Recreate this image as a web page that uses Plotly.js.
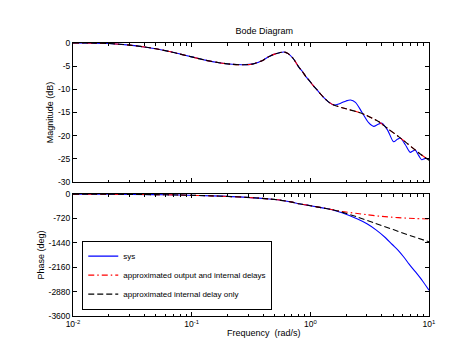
<!DOCTYPE html>
<html>
<head>
<meta charset="utf-8">
<script src="https://cdn.plot.ly/plotly-3.0.1.min.js"></script>
<style>html,body{margin:0;padding:0;background:#fff;}#chart{width:474px;height:355px;}</style>
</head>
<body>
<div id="chart"></div>
<script>
// ---- Data ----
// Magnitude (dB), sys
const sysMagFreq = [0.01,0.015,0.02,0.03,0.04,0.05,0.065,0.08,0.1,0.13,0.17,0.22,0.27,0.33,0.4,0.45,0.5,0.55,0.6,0.65,0.72,0.8,0.86,0.92,0.98,1.05,1.12,1.2,1.3,1.42,1.58,1.8,2.0,2.18,2.4,2.73,3.1,3.42,3.7,4.02,4.5,5.03,5.4,5.73,6.3,6.95,7.3,7.65,8.2,8.69,9.3,10];
const sysMagDb = [0,-0.02,-0.1,-0.45,-0.85,-1.25,-1.85,-2.4,-3.0,-3.7,-4.25,-4.6,-4.7,-4.5,-3.7,-2.9,-2.4,-2.1,-1.95,-2.3,-3.4,-5.2,-6.2,-7.3,-8.1,-9.1,-9.9,-10.8,-11.8,-12.7,-13.4,-13.0,-12.5,-12.3,-12.8,-15.0,-17.2,-18.0,-17.6,-17.3,-18.9,-21.3,-20.8,-20.5,-21.9,-23.6,-23.3,-23.1,-24.3,-25.2,-24.9,-25.0];
// Magnitude (dB), approximations (both nearly identical)
const apxMagFreq = [0.01,0.015,0.02,0.03,0.04,0.05,0.065,0.08,0.1,0.13,0.17,0.22,0.27,0.33,0.4,0.45,0.5,0.55,0.6,0.65,0.72,0.8,0.86,0.92,0.98,1.05,1.12,1.2,1.3,1.42,1.58,2.0,2.5,2.9,3.3,3.78,4.5,5.54,6.5,7.5,8.5,10];
const apxMagDb = [0,-0.02,-0.1,-0.45,-0.85,-1.25,-1.85,-2.4,-3.0,-3.7,-4.25,-4.6,-4.7,-4.5,-3.7,-2.9,-2.4,-2.1,-1.95,-2.3,-3.4,-5.2,-6.2,-7.3,-8.1,-9.1,-9.9,-10.8,-11.8,-12.7,-13.4,-14.2,-14.9,-15.5,-16.2,-17.0,-18.5,-20.2,-21.6,-22.9,-24.0,-25.3];
// Phase (deg)
const sysPhFreq = [0.01,0.02,0.05,0.08,0.15,0.29,0.45,0.55,0.7,0.8,1.0,1.3,1.5,1.85,2.5,3.0,3.6,4.3,4.9,5.5,6.2,6.8,7.7,8.8,10];
const sysPhDeg = [-3,-7,-18,-30,-55,-98,-145,-178,-240,-285,-345,-415,-455,-555,-740,-880,-1065,-1290,-1490,-1660,-1880,-2070,-2300,-2560,-2840];
const outPhFreq = [0.01,0.02,0.05,0.08,0.15,0.29,0.45,0.55,0.7,0.8,1.0,1.3,1.5,1.85,2.5,3.0,4.0,5.5,7.5,10];
const outPhDeg = [-3,-7,-18,-30,-55,-98,-145,-178,-240,-285,-345,-415,-455,-515,-575,-610,-660,-698,-722,-738];
const intPhFreq = [0.01,0.02,0.05,0.08,0.15,0.29,0.45,0.55,0.7,0.8,1.0,1.3,1.5,1.85,2.5,3.5,5.0,7.0,10];
const intPhDeg = [-3,-7,-18,-30,-55,-98,-145,-178,-240,-285,-345,-415,-455,-535,-680,-860,-1050,-1230,-1410];

const seriesNames = ['sys','approximated output and internal delays','approximated internal delay only'];
const freqTickVals = [0.01,0.1,1,10];
const freqTickText = ['10<sup>-2</sup>','10<sup>-1</sup>','10<sup>0</sup>','10<sup>1</sup>'];
const magTickVals = [0,-5,-10,-15,-20,-25,-30];
const magTickText = ['0','-5','-10','-15','-20','-25','-30'];
const phTickVals = [0,-720,-1440,-2160,-2880,-3600];
const phTickText = ['0','-720','-1440','-2160','-2880','-3600'];

const FONT = '"Liberation Sans", Arial, Helvetica, sans-serif';
const colSys = '#0000ff', colOut = '#ff0000', colInt = '#000000';
const lw = 1.1;

const traces = [
  {x: sysMagFreq, y: sysMagDb, xaxis:'x', yaxis:'y', mode:'lines', name: seriesNames[0], legendgroup:'a', showlegend:true,
   line:{color:colSys, width:lw, shape:'spline', smoothing:0.8}},
  {x: apxMagFreq, y: apxMagDb, xaxis:'x', yaxis:'y', mode:'lines', name: seriesNames[1], legendgroup:'b', showlegend:true,
   line:{color:colOut, width:lw, dash:'6px,3px,1.5px,3px', shape:'spline', smoothing:0.8}},
  {x: apxMagFreq, y: apxMagDb, xaxis:'x', yaxis:'y', mode:'lines', name: seriesNames[2], legendgroup:'c', showlegend:true,
   line:{color:colInt, width:lw, dash:'6px,3px', shape:'spline', smoothing:0.8}},
  {x: sysPhFreq, y: sysPhDeg, xaxis:'x2', yaxis:'y2', mode:'lines', name: seriesNames[0], legendgroup:'a', showlegend:false,
   line:{color:colSys, width:lw, shape:'spline', smoothing:0.8}},
  {x: outPhFreq, y: outPhDeg, xaxis:'x2', yaxis:'y2', mode:'lines', name: seriesNames[1], legendgroup:'b', showlegend:false,
   line:{color:colOut, width:lw, dash:'6px,3px,1.5px,3px', shape:'spline', smoothing:0.8}},
  {x: intPhFreq, y: intPhDeg, xaxis:'x2', yaxis:'y2', mode:'lines', name: seriesNames[2], legendgroup:'c', showlegend:false,
   line:{color:colInt, width:lw, dash:'6px,3px', shape:'spline', smoothing:0.8}}
];

const tickFont = {family: FONT, size: 8.5, color:'#000'};
const baseX = {
  type:'log', range:[-2,1], showgrid:false, zeroline:false,
  showline:true, linecolor:'#000', linewidth:1, mirror:'ticks',
  ticks:'inside', ticklen:4, tickcolor:'#000', tickwidth:1,
  tickvals: freqTickVals, ticktext: freqTickText, tickfont: tickFont,
  minor:{ticks:'inside', ticklen:2.5, tickcolor:'#000', tickwidth:1, dtick:'D1', showgrid:false}
};
const baseY = {
  showgrid:false, zeroline:false, showline:true, linecolor:'#000', linewidth:1, mirror:'ticks',
  ticks:'inside', ticklen:4, tickcolor:'#000', tickwidth:1, tickfont: tickFont
};

const layout = {
  width:474, height:355,
  paper_bgcolor:'#fff', plot_bgcolor:'#fff',
  margin:{l:72.5, r:45, t:43.3, b:39.3},
  font:{family: FONT, size:9, color:'#000'},
  showlegend:true,
  title:{text:'Bode Diagram', font:{family:FONT, size:9, color:'#000'}, x:0.537, xref:'paper', xanchor:'center', y:0.912, yanchor:'middle'},
  xaxis: Object.assign({}, baseX, {anchor:'y', showticklabels:false, matches:'x2'}),
  yaxis: Object.assign({}, baseY, {domain:[0.4908,1], range:[-30,0], tickvals: magTickVals, ticktext: magTickText,
          title:{text:'Magnitude (dB)', font:{family:FONT, size:9}, standoff:2}}),
  xaxis2: Object.assign({}, baseX, {anchor:'y2'}),
  yaxis2: Object.assign({}, baseY, {domain:[0,0.4468], range:[-3600,0], tickvals: phTickVals, ticktext: phTickText,
          title:{text:'Phase (deg)', font:{family:FONT, size:9}, standoff:2}}),
  legend:{x:0.026, y:0.0235, xanchor:'left', yanchor:'bottom', xref:'paper', yref:'paper',
          bgcolor:'#fff', bordercolor:'#000', borderwidth:1, font:{family:FONT, size:8, color:'#000'},
          tracegroupgap:0, itemwidth:30},
  annotations:[
    {text:'Frequency  (rad/s)', xref:'paper', yref:'paper', x:0.537, y:-0.0635, xanchor:'center', yanchor:'middle',
     showarrow:false, font:{family:FONT, size:9, color:'#000'}}
  ]
};

Plotly.newPlot('chart', traces, layout, {displayModeBar:false, staticPlot:true});
</script>
</body>
</html>
